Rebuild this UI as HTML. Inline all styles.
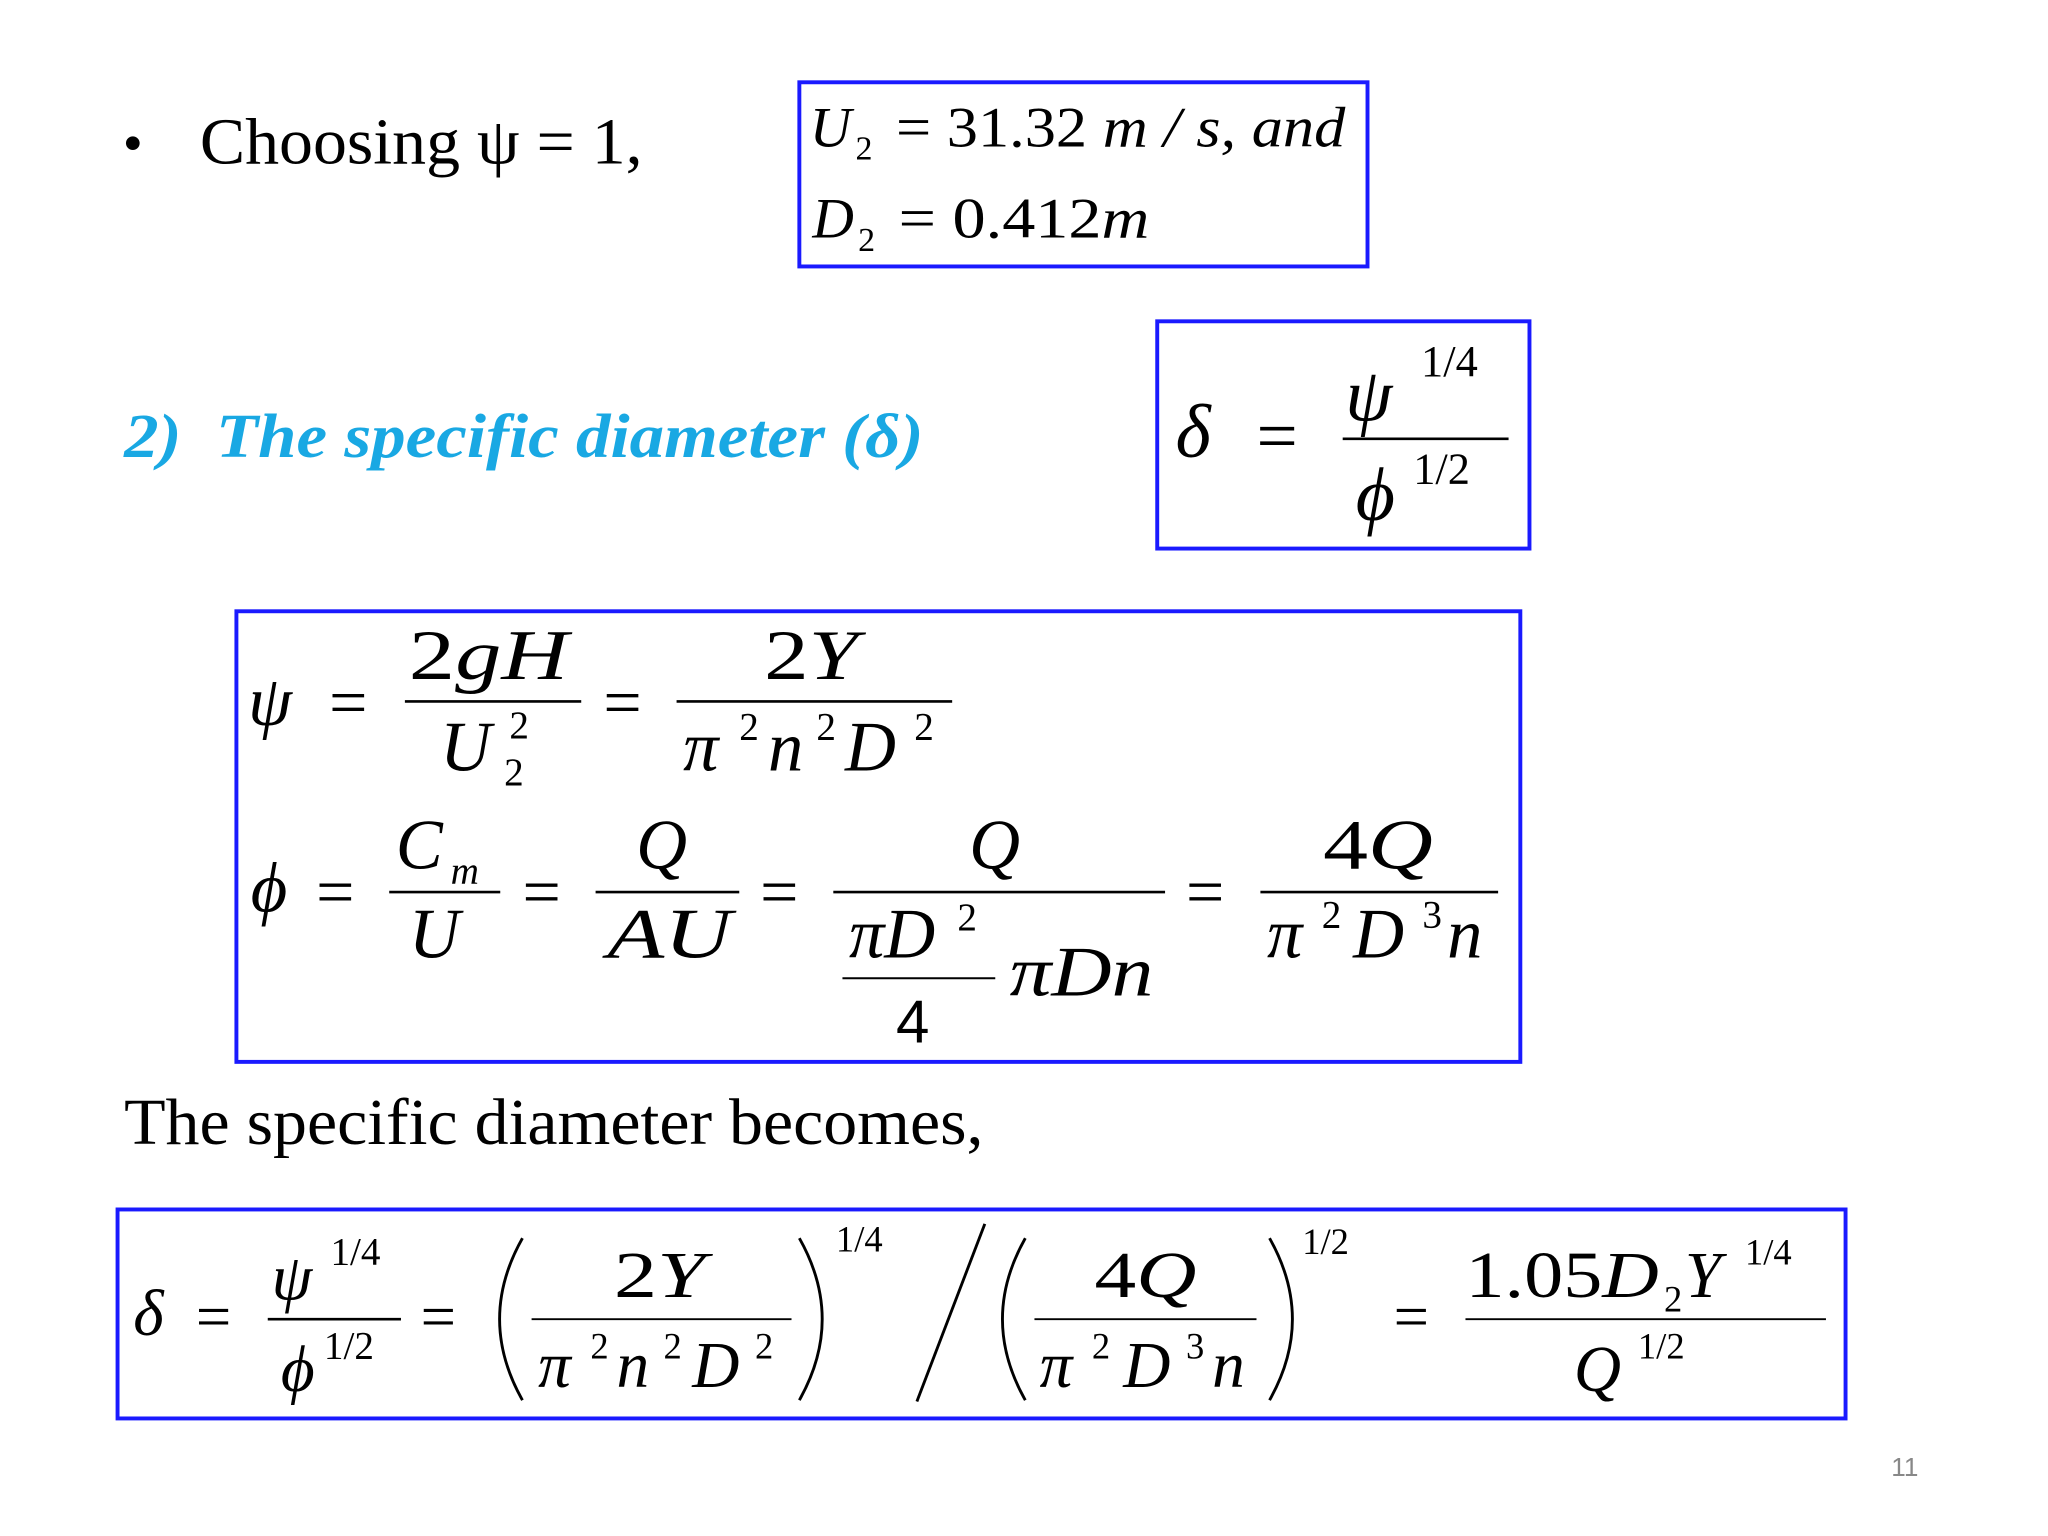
<!DOCTYPE html>
<html><head><meta charset="utf-8"><style>
html,body{margin:0;padding:0;background:#fff;}
svg{display:block;}
text{font-family:"Liberation Serif",serif;fill:#000;}
.i{font-style:italic;}
</style></head><body>
<svg width="2048" height="1536" viewBox="0 0 1568 1176" xmlns="http://www.w3.org/2000/svg">
<rect width="1568" height="1176" fill="#fff"/>
<g fill="none" stroke="#1a1aff" stroke-width="3">
<rect x="612" y="63" width="435" height="141"/>
<rect x="886" y="246" width="285" height="174"/>
<rect x="181" y="468" width="983" height="345"/>
<rect x="90" y="926" width="1323" height="160"/>
</g>
<text x="94" y="124" font-size="44">•</text>
<text x="153" y="125" font-size="50" textLength="339" lengthAdjust="spacingAndGlyphs">Choosing ψ = 1,</text>
<text x="620" y="112" font-size="44" class="i">U</text>
<text x="655" y="122" font-size="26">2</text>
<text x="686" y="112" font-size="44" textLength="344" lengthAdjust="spacingAndGlyphs">= 31.32<tspan class="i"> m / s, and</tspan></text>
<text x="622" y="182" font-size="44" class="i">D</text>
<text x="657" y="192" font-size="26">2</text>
<text x="688" y="182" font-size="44" textLength="192" lengthAdjust="spacingAndGlyphs">= 0.412<tspan class="i">m</tspan></text>
<text x="95" y="350" font-size="48" font-weight="bold" font-style="italic" style="fill:#19a8e3" textLength="612" lengthAdjust="spacingAndGlyphs">2)&#160;&#160;The specific diameter (δ)</text>
<text x="900" y="350" font-size="58" class="i">δ</text>
<text x="962" y="352" font-size="56">=</text>
<line x1="1028" y1="336" x2="1155" y2="336" stroke="#000" stroke-width="2"/>
<text x="1030" y="322" font-size="58" class="i">ψ</text>
<text x="1088" y="288" font-size="34">1/4</text>
<text x="1038" y="398" font-size="58" class="i">ϕ</text>
<text x="1082" y="370" font-size="34">1/2</text>
<g stroke="#000" stroke-width="2">
<line x1="310" y1="537" x2="445" y2="537"/>
<line x1="518" y1="537" x2="729" y2="537"/>
<line x1="298" y1="683" x2="383" y2="683"/>
<line x1="456" y1="683" x2="566" y2="683"/>
<line x1="638" y1="683" x2="892" y2="683"/>
<line x1="645" y1="749" x2="762" y2="749" stroke-width="1.5"/>
<line x1="965" y1="683" x2="1147" y2="683"/>
</g>
<text x="190" y="555" font-size="54" class="i">ψ</text>
<text x="252" y="555" font-size="52">=</text>
<text x="313" y="520" font-size="54" textLength="122" lengthAdjust="spacingAndGlyphs">2<tspan class="i">gH</tspan></text>
<text x="337" y="590" font-size="54" class="i">U</text>
<text x="390" y="565" font-size="30">2</text>
<text x="386" y="601" font-size="30">2</text>
<text x="462" y="555" font-size="52">=</text>
<text x="585" y="520" font-size="54" textLength="72" lengthAdjust="spacingAndGlyphs">2<tspan class="i">Y</tspan></text>
<text x="523" y="590" font-size="54" class="i">π</text>
<text x="566" y="566" font-size="30">2</text>
<text x="588" y="590" font-size="54" class="i">n</text>
<text x="625" y="566" font-size="30">2</text>
<text x="647" y="590" font-size="54" class="i">D</text>
<text x="700" y="566" font-size="30">2</text>
<text x="192" y="698" font-size="54" class="i">ϕ</text>
<text x="242" y="700" font-size="52">=</text>
<text x="303" y="665" font-size="54" class="i">C</text>
<text x="345" y="677" font-size="30" class="i">m</text>
<text x="313" y="733" font-size="54" class="i">U</text>
<text x="400" y="700" font-size="52">=</text>
<text x="487" y="665" font-size="54" class="i">Q</text>
<text x="465" y="733" font-size="54" class="i" textLength="95" lengthAdjust="spacingAndGlyphs">AU</text>
<text x="582" y="700" font-size="52">=</text>
<text x="742" y="665" font-size="54" class="i">Q</text>
<text x="650" y="733" font-size="54" class="i">πD</text>
<text x="733" y="712" font-size="30">2</text>
<text x="686" y="798" font-size="46" style="font-family:'Liberation Sans',sans-serif">4</text>
<text x="773" y="762" font-size="54" class="i" textLength="110" lengthAdjust="spacingAndGlyphs">πDn</text>
<text x="908" y="700" font-size="52">=</text>
<text x="1013" y="665" font-size="54" textLength="84" lengthAdjust="spacingAndGlyphs">4<tspan class="i">Q</tspan></text>
<text x="970" y="733" font-size="54" class="i">π</text>
<text x="1012" y="710" font-size="30">2</text>
<text x="1036" y="733" font-size="54" class="i">D</text>
<text x="1089" y="710" font-size="30">3</text>
<text x="1108" y="733" font-size="54" class="i">n</text>
<text x="95" y="876" font-size="50" textLength="658" lengthAdjust="spacingAndGlyphs">The specific diameter becomes,</text>
<text x="102" y="1022" font-size="50" class="i">δ</text>
<text x="150" y="1024" font-size="48">=</text>
<line x1="205" y1="1010" x2="307" y2="1010" stroke="#000" stroke-width="2"/>
<text x="208" y="995" font-size="50" class="i">ψ</text>
<text x="253" y="968" font-size="30">1/4</text>
<text x="215" y="1065" font-size="50" class="i">ϕ</text>
<text x="248" y="1040" font-size="30">1/2</text>
<text x="322" y="1024" font-size="48">=</text>
<g fill="none" stroke="#000" stroke-width="2.2">
<path d="M400 948 Q365 1010 400 1072"/>
<path d="M612 948 Q647 1010 612 1072"/>
<path d="M785 948 Q750 1010 785 1072"/>
<path d="M972 948 Q1007 1010 972 1072"/>
<line x1="754" y1="937" x2="702" y2="1073"/>
</g>
<g stroke="#000" stroke-width="1.5">
<line x1="407" y1="1010" x2="606" y2="1010"/>
<line x1="792" y1="1010" x2="962" y2="1010"/>
<line x1="1122" y1="1010" x2="1398" y2="1010"/>
</g>
<text x="470" y="993" font-size="50" textLength="70" lengthAdjust="spacingAndGlyphs">2<tspan class="i">Y</tspan></text>
<text x="412" y="1062" font-size="50" class="i">π</text>
<text x="452" y="1040" font-size="28">2</text>
<text x="472" y="1062" font-size="50" class="i">n</text>
<text x="508" y="1040" font-size="28">2</text>
<text x="530" y="1062" font-size="50" class="i">D</text>
<text x="578" y="1040" font-size="28">2</text>
<text x="640" y="958" font-size="28">1/4</text>
<text x="838" y="993" font-size="50" textLength="78" lengthAdjust="spacingAndGlyphs">4<tspan class="i">Q</tspan></text>
<text x="796" y="1062" font-size="50" class="i">π</text>
<text x="836" y="1040" font-size="28">2</text>
<text x="860" y="1062" font-size="50" class="i">D</text>
<text x="908" y="1040" font-size="28">3</text>
<text x="928" y="1062" font-size="50" class="i">n</text>
<text x="997" y="960" font-size="28">1/2</text>
<text x="1067" y="1024" font-size="48">=</text>
<text x="1122" y="993" font-size="50" textLength="148" lengthAdjust="spacingAndGlyphs">1.05<tspan class="i">D</tspan></text>
<text x="1274" y="1004" font-size="28">2</text>
<text x="1290" y="993" font-size="50" class="i">Y</text>
<text x="1336" y="968" font-size="28">1/4</text>
<text x="1205" y="1065" font-size="50" class="i">Q</text>
<text x="1254" y="1040" font-size="28">1/2</text>
<text x="1448" y="1130" font-size="20" style="font-family:'Liberation Sans',sans-serif;fill:#888">11</text>
</svg>
</body></html>
